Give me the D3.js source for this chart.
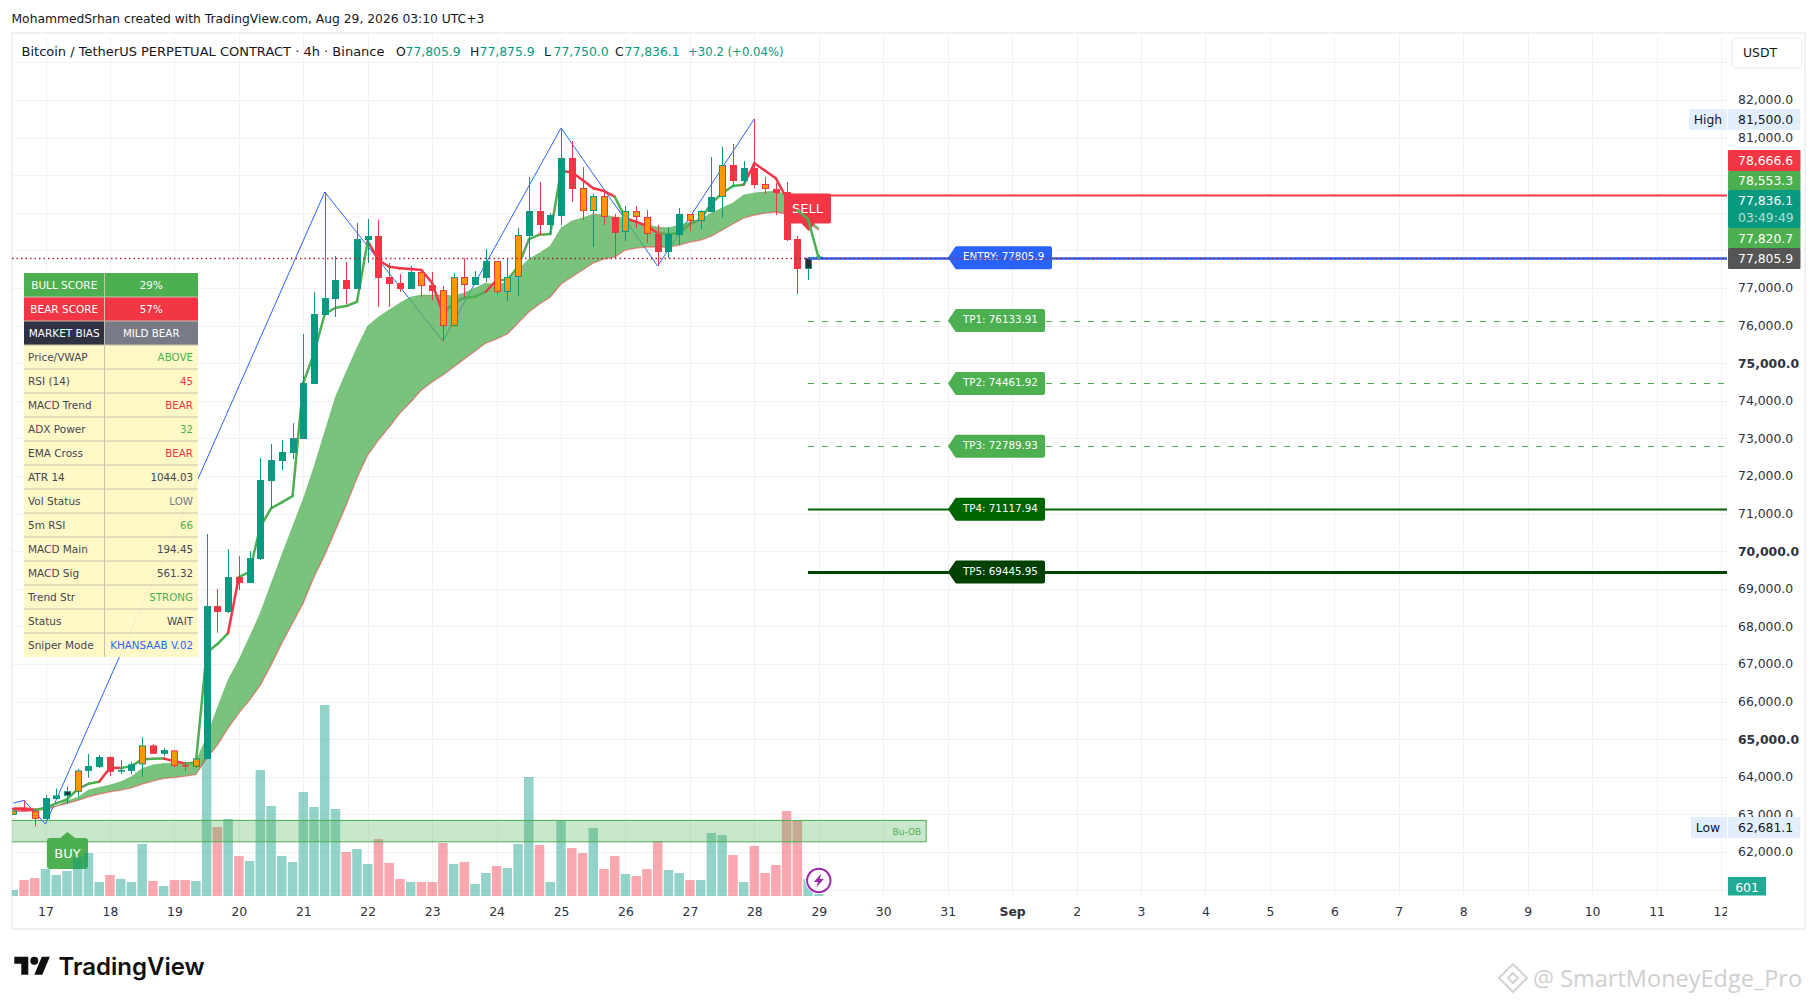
<!DOCTYPE html>
<html>
<head>
<meta charset="utf-8">
<title>BTCUSDT.P 4h</title>
<script src="https://cdn.jsdelivr.net/npm/d3@7"></script>
<style>
    html, body { margin: 0; padding: 0; background: #fff; }
    svg { display: block; }
    text { font-family: "DejaVu Sans", sans-serif; }
</style>
</head>
<body>
<div id="chart"></div>
<script>
// bars run from 4h before the 17th to the open candle on the 29th
const firstBar = -3;
const barOpen = [62989,63175,63087,62875,63407,63494,63601,64159,64258,64524,64159,64159,64330,64835,64612,64702,64311,64266,64471,68540,68381,69312,69152,69791,71865,72397,72610,72983,74446,76281,76707,77212,76973,78276,78382,77292,77132,76973,77425,77079,76946,75988,77292,77079,77265,77717,76893,77292,78382,79047,78675,78914,80457,79659,79047,79446,78888,78489,79047,78888,78436,77957,78409,78968,78781,79021,79420,80271,79845,80191,79766,79633,79553,78303,77505,77805.9];
const barHigh = [63106,63372,63141,63513,63691,63744,64205,64604,64577,64542,64444,64391,65056,64870,64763,64702,64391,64489,70456,68993,70057,69870,70003,72477,72850,72956,73408,75776,76893,79553,77850,77691,78728,78835,78808,77664,77372,77584,77425,77425,77052,77398,77797,77451,78037,77717,77771,78595,79952,79819,78994,81255,80909,80218,79500,79526,78968,79180,79180,79074,78675,78622,79127,78968,79074,80484,80750,80830,80377,81500,79952,79792,79819,78382,77797,77875.9];
const barLow = [62989,63087,62681.1,62875,63407,63274,63452,63973,64239,64018,64072,64072,63992,64612,64550,64258,64151,64239,64471,67830,68354,68966,69152,69764,71147,72158,72451,72983,74446,76281,76228,76574,76973,77664,76494,76494,76893,76973,76760,76680,75589,75988,76760,77079,77159,76840,76653,76786,77797,78409,78409,78675,79287,78808,78090,78675,77797,78249,78595,78196,77584,77797,78143,78515,78569,79021,78861,79686,79739,79659,79500,78941,78249,76840,77212,77750];
const barClose = [63106,63087,62883,63433,63505,63619,64170,64284,64524,64133,64178,64330,64835,64612,64710,64284,64276,64489,68540,68381,69312,69152,69817,71892,72424,72637,73009,74472,76308,76733,77212,76973,78303,78382,77265,77106,76973,77425,77052,76919,75988,77292,77079,77292,77717,76893,77292,78409,79047,78675,78941,80457,79633,79047,79446,78888,78462,79047,78888,78436,77957,78436,78968,78781,79047,79420,80271,79845,80191,79739,79633,79526,78276,77505,77806,77836.1];
const barVolume = [1800,4800,5400,8100,6300,7500,11700,12900,4200,6300,5100,4200,15600,4500,3000,4800,4800,4500,41100,20700,23100,12000,10500,37800,27000,12000,10200,31200,26700,57300,26100,13200,14100,9600,17100,9900,5100,4200,4200,4200,15900,9600,10200,3600,6900,9000,8400,15600,35700,15300,4200,22800,14400,12900,20400,8100,12000,6600,6000,8100,16500,7800,6900,4800,4800,18900,18300,12300,4200,15000,6900,9300,25500,22500,5100,601];
const orangeBars = [-3,-1,3,9,12,14,35,37,38,39,42,43,44,50,51,52,54,55,56,60,61,63,67];
const darkBars = [2,71];

const cloudUpper = [63194,63194,63167,63159,63220,63362,63452,63646,63718,63779,63867,64000,64223,64311,64356,64356,64372,64399,65056,65827,66572,67104,67716,68354,69126,69897,70642,71387,72238,73169,74100,74765,75403,75988,76228,76414,76600,76760,76813,76813,76813,76786,76866,77000,77132,77079,77159,77478,77771,77930,78116,78595,78781,78861,78968,78941,78888,78861,78781,78675,78622,78595,78675,78755,78835,78994,79127,79260,79473,79526,79553,79579,79473,79207,78861,78595];
const cloudLower = [63061,63061,63087,63114,63220,63292,63372,63468,63540,63601,63646,63707,63806,63885,63957,63984,64018,64064,64489,64843,65295,65694,66040,66439,66971,67556,68088,68620,69312,69897,70562,71227,71945,72557,72956,73302,73674,73967,74286,74499,74685,74898,75111,75323,75536,75643,75776,76068,76361,76574,76760,77106,77292,77478,77664,77771,77824,78010,78063,78090,78090,78090,78143,78223,78276,78382,78542,78702,78861,78941,78994,79021,78968,78861,78728,78542];
const fastLine = [63141,63141,63114,63175,63292,63398,63673,63814,63867,64239,64231,64284,64462,64478,64489,64417,64356,64372,67298,67530,67822,69312,69452,70650,71139,71299,71466,74472,75270,76308,76475,76520,76635,78249,77744,77566,77523,77505,77478,77132,76326,76600,76741,76768,76901,77212,77212,77566,78294,78417,78436,80111,80077,79872,79651,79579,79428,78853,78763,78648,78454,78436,78454,78702,78827,79252,79518,79712,79747,80316,80120,79918,79385,79074,78827,77789];
const fastRedBars = [-3,-2,-1,6,7,12,13,18,31,32,33,34,35,36,37,42,49,50,51,52,53,55,56,57,66,67,68,69,70];
const zigzagBars = [-3,-2,0,26,37,48,57,66];
const zigzagPrices = [63300,63372,62742,79553,75589,81255,77584,81500];

const orderBlockTop = 62840;
const orderBlockBottom = 62271;
const orderBlockEnd = 82;

const stopPrice = 79477.89;
const entryPrice = 77805.9;
const tpNames = ['TP1', 'TP2', 'TP3', 'TP4', 'TP5'];
const tpPrices = [76133.91, 74461.92, 72789.93, 71117.94, 69445.95];

// 78k-80k sit behind the stacked price tags, so they are not listed
const priceTicks = [82000,81000,77000,76000,75000,74000,73000,72000,71000,70000,69000,68000,67000,66000,65000,64000,63000,62000];
const gridPrices = [83000,82000,81000,80000,79000,78000,77000,76000,75000,74000,73000,72000,71000,70000,69000,68000,67000,66000,65000,64000,63000,62000,61000];
const dayTicks = [17,18,19,20,21,22,23,24,25,26,27,28,29,30,31,32,33,34,35,36,37,38,39,40,41,42,43];
const dayLabels = ['17','18','19','20','21','22','23','24','25','26','27','28','29','30','31','Sep','2','3','4','5','6','7','8','9','10','11','12'];

const tableLabels = ['BULL SCORE','BEAR SCORE','MARKET BIAS','Price/VWAP','RSI (14)','MACD Trend','ADX Power','EMA Cross','ATR 14','Vol Status','5m RSI','MACD Main','MACD Sig','Trend Str','Status','Sniper Mode'];
const tableValues = ['29%','57%','MILD BEAR','ABOVE','45','BEAR','32','BEAR','1044.03','LOW','66','194.45','561.32','STRONG','WAIT','KHANSAAB V.02'];
const tableTones = ['head','head','head','bull','bear','bear','bull','bear','plain','mute','bull','plain','plain','bull','plain','blue'];

const tagTexts = ['78,666.6','78,553.3','77,836.1','77,820.7','77,805.9'];

const TEAL = '#089981', RED = '#f23645', ORANGE = '#ff9800', DARK = '#2a2e39', GREEN = '#4caf50', BLUE = '#2962ff';
const INK = '#131722', AXIS_INK = '#2e323d', GRID = '#f1f2f4';
const FONT = '"DejaVu Sans", sans-serif';
const plot = { left: 12, right: 1727, top: 33, bottom: 896 };

const y = d3.scaleLinear().domain([82000, 62000]).range([100, 852]);
const x = d3.scaleLinear().domain([17, 43]).range([45.5, 1721]);
const volumeY = d3.scaleLinear().domain([0, 57300]).range([896, 705]);
const barX = k => x(17 + k / 6);
const bars = d3.range(barOpen.length).map(k => k + firstBar);
const at = (arr, bar) => arr[bar - firstBar];

const svg = d3.select('#chart').append('svg').attr('width', 1818).attr('height', 1002);

svg.append('defs').append('clipPath').attr('id', 'plotClip')
    .append('rect').attr('x', plot.left).attr('y', plot.top)
    .attr('width', plot.right - plot.left).attr('height', plot.bottom - plot.top);

function drawFrame() {
    svg.append('text').attr('x', 11.5).attr('y', 23).attr('font-size', 12.3).attr('fill', INK)
        .text('MohammedSrhan created with TradingView.com, Aug 29, 2026 03:10 UTC+3');
    svg.append('rect').attr('x', 12).attr('y', 33).attr('width', 1793).attr('height', 896)
        .attr('fill', '#fff').attr('stroke', '#f0f1f3').attr('stroke-width', 2);
}

function drawGrid(g) {
    g.selectAll('.hgrid').data(gridPrices).enter().append('line')
        .attr('x1', plot.left).attr('x2', plot.right)
        .attr('y1', d => Math.round(y(d)) + 0.5).attr('y2', d => Math.round(y(d)) + 0.5)
        .attr('stroke', GRID);
    g.selectAll('.vgrid').data(dayTicks).enter().append('line')
        .attr('x1', d => Math.round(x(d)) + 0.5).attr('x2', d => Math.round(x(d)) + 0.5)
        .attr('y1', plot.top).attr('y2', plot.bottom)
        .attr('stroke', GRID);
}

function drawBuyLabel(g) {
    const p = d3.path();
    p.moveTo(50, 838); p.lineTo(60, 838); p.lineTo(67.5, 832); p.lineTo(75, 838); p.lineTo(85, 838);
    p.quadraticCurveTo(88, 838, 88, 841); p.lineTo(88, 866); p.quadraticCurveTo(88, 869, 85, 869);
    p.lineTo(50, 869); p.quadraticCurveTo(47, 869, 47, 866); p.lineTo(47, 841); p.quadraticCurveTo(47, 838, 50, 838);
    g.append('path').attr('d', p.toString()).attr('fill', GREEN);
    g.append('text').attr('x', 67.5).attr('y', 858).attr('text-anchor', 'middle')
        .attr('font-size', 13).attr('fill', '#fff').text('BUY');
}

function drawVolume(g) {
    g.selectAll('.vol').data(bars).enter().append('rect')
        .attr('x', d => barX(d) - 4.75)
        .attr('width', 9.5)
        .attr('y', d => volumeY(at(barVolume, d)))
        .attr('height', d => volumeY(0) - volumeY(at(barVolume, d)))
        .attr('fill', d => at(barClose, d) >= at(barOpen, d) ? TEAL : RED)
        .attr('fill-opacity', 0.43);
}

function drawOrderBlock(g) {
    const x0 = plot.left - 2, x1 = x(17 + orderBlockEnd / 6);
    g.append('rect').attr('x', x0).attr('y', y(orderBlockTop))
        .attr('width', x1 - x0).attr('height', y(orderBlockBottom) - y(orderBlockTop))
        .attr('fill', GREEN).attr('fill-opacity', 0.3)
        .attr('stroke', GREEN).attr('stroke-width', 1);
    g.append('text').attr('x', x1 - 5).attr('y', (y(orderBlockTop) + y(orderBlockBottom)) / 2 + 3.5)
        .attr('text-anchor', 'end').attr('font-size', 9).attr('fill', GREEN).text('Bu-OB');
}

function drawZigzag(g) {
    const line = d3.line().x(d => barX(d)).y((d, i) => y(zigzagPrices[i]));
    g.append('path').attr('d', line(zigzagBars)).attr('fill', 'none')
        .attr('stroke', BLUE).attr('stroke-width', 1);
}

function drawCloud(g) {
    const area = d3.area().x(d => barX(d)).y0(d => y(at(cloudLower, d))).y1(d => y(at(cloudUpper, d)));
    g.append('path').attr('d', area(bars.filter(d => d <= 0))).attr('fill', RED).attr('fill-opacity', 0.6);
    g.append('path').attr('d', area(bars.filter(d => d >= 0))).attr('fill', GREEN).attr('fill-opacity', 0.75);
    const upper = d3.line().x(d => barX(d)).y(d => y(at(cloudUpper, d)));
    const lower = d3.line().x(d => barX(d)).y(d => y(at(cloudLower, d)));
    g.append('path').attr('d', upper(bars.filter(d => d >= 0))).attr('fill', 'none')
        .attr('stroke', GREEN).attr('stroke-opacity', 0.5).attr('stroke-width', 1);
    g.append('path').attr('d', lower(bars.filter(d => d >= 0))).attr('fill', 'none')
        .attr('stroke', RED).attr('stroke-opacity', 0.55).attr('stroke-width', 1.3);
}

function drawFastLine(g, from, to) {
    const line = d3.line().x(d => barX(d)).y(d => y(at(fastLine, d)));
    d3.range(from, to).forEach(d => {
        g.append('path').attr('d', line([d, d + 1])).attr('fill', 'none')
            .attr('stroke', fastRedBars.includes(d + 1) ? RED : GREEN)
            .attr('stroke-width', 2.5).attr('stroke-linecap', 'round');
    });
}

function drawCandles(g) {
    const candles = g.selectAll('.candle').data(bars).enter().append('g').attr('class', 'candle');
    const color = d => at(barClose, d) >= at(barOpen, d) ? TEAL : RED;
    candles.append('line')
        .attr('x1', d => Math.round(barX(d)) + 0.5).attr('x2', d => Math.round(barX(d)) + 0.5)
        .attr('y1', d => y(at(barHigh, d))).attr('y2', d => y(at(barLow, d)))
        .attr('stroke', color);
    candles.append('rect')
        .attr('x', d => Math.round(barX(d)) - 2.5)
        .attr('width', 6)
        .attr('y', d => y(Math.max(at(barOpen, d), at(barClose, d))) + 0.5)
        .attr('height', d => Math.max(0.5, Math.abs(y(at(barOpen, d)) - y(at(barClose, d))) - 1))
        .attr('fill', d => orangeBars.includes(d) ? ORANGE : darkBars.includes(d) ? DARK : color(d))
        .attr('stroke', color);
}

function drawLevelLine(g, price, color, width, dash) {
    g.append('line').attr('x1', 808).attr('x2', plot.right)
        .attr('y1', Math.round(y(price)) + 0.5).attr('y2', Math.round(y(price)) + 0.5)
        .attr('stroke', color).attr('stroke-width', width)
        .attr('stroke-dasharray', dash || null);
}

function drawLevelLabel(g, price, text, fill, right) {
    const c = y(price), top = c - 11.5, bottom = c + 11.5, p = d3.path();
    p.moveTo(948, c); p.lineTo(955, top + 1); p.quadraticCurveTo(955.5, top, 957, top);
    p.lineTo(right - 2, top); p.quadraticCurveTo(right, top, right, top + 2);
    p.lineTo(right, bottom - 2); p.quadraticCurveTo(right, bottom, right - 2, bottom);
    p.lineTo(957, bottom); p.quadraticCurveTo(955.5, bottom, 955, bottom - 1); p.closePath();
    g.append('path').attr('d', p.toString()).attr('fill', fill);
    g.append('text').attr('x', 963).attr('y', c + 2.5).attr('font-size', 10.3).attr('fill', '#fff').text(text);
}

function drawLevels(g) {
    const tpColors = [GREEN, GREEN, GREEN, '#006400', '#004000'];
    const tpWidths = [1, 1, 1, 2, 3];
    drawLevelLine(g, stopPrice, RED, 2);
    drawLevelLine(g, entryPrice, BLUE, 2.5);
    tpPrices.forEach((d, i) => {
        drawLevelLine(g, d, tpColors[i], tpWidths[i], i < 3 ? '6 8' : null);
        drawLevelLabel(g, d, `${tpNames[i]}: ${d}`, tpColors[i], 1045);
    });
    drawLevelLabel(g, entryPrice, `ENTRY: ${entryPrice}`, BLUE, 1052);
    g.append('line').attr('x1', plot.left).attr('x2', plot.right)
        .attr('y1', Math.round(y(entryPrice)) + 0.5).attr('y2', Math.round(y(entryPrice)) + 0.5)
        .attr('stroke', '#a8222c').attr('stroke-width', 1.5).attr('stroke-dasharray', '1.5 3');
}

function drawSellLabel(g) {
    const p = d3.path();
    p.moveTo(786, 193.5); p.lineTo(829, 193.5); p.quadraticCurveTo(831, 193.5, 831, 195.5);
    p.lineTo(831, 221.5); p.quadraticCurveTo(831, 223.5, 829, 223.5);
    p.lineTo(815, 223.5); p.lineTo(808.5, 231); p.lineTo(801.5, 223.5);
    p.lineTo(786, 223.5); p.quadraticCurveTo(784, 223.5, 784, 221.5);
    p.lineTo(784, 195.5); p.quadraticCurveTo(784, 193.5, 786, 193.5);
    g.append('path').attr('d', p.toString()).attr('fill', RED);
    g.append('text').attr('x', 807.5).attr('y', 212.5).attr('text-anchor', 'middle')
        .attr('font-size', 13).attr('fill', '#fff').text('SELL');
}

function drawTable() {
    const g = svg.append('g');
    const left = 24, mid = 104.5, right = 198, top = 273, rowH = 24;
    const tone = { bull: GREEN, bear: RED, plain: '#434651', mute: '#787b86', blue: BLUE };
    const headLeft = [GREEN, RED, '#2f3241'], headRight = [GREEN, RED, '#787b86'];
    tableLabels.forEach((label, i) => {
        const rowY = top + i * rowH, head = tableTones[i] === 'head';
        g.append('rect').attr('x', left).attr('y', rowY).attr('width', mid - left).attr('height', rowH)
            .attr('fill', head ? headLeft[i] : '#fff9c4').attr('fill-opacity', head ? 1 : 0.93);
        g.append('rect').attr('x', mid).attr('y', rowY).attr('width', right - mid).attr('height', rowH)
            .attr('fill', head ? headRight[i] : '#fff9c4').attr('fill-opacity', head ? 1 : 0.93);
        if (i > 0) {
            g.append('line').attr('x1', left).attr('x2', right).attr('y1', rowY).attr('y2', rowY)
                .attr('stroke', '#c6c2ab').attr('stroke-width', 1);
        }
        g.append('text').attr('x', head ? (left + mid) / 2 : 28).attr('y', rowY + 15.5)
            .attr('text-anchor', head ? 'middle' : 'start').attr('font-size', 10.5)
            .attr('fill', head ? '#fff' : '#434651').text(label);
        g.append('text').attr('x', head ? (mid + right) / 2 : 193).attr('y', rowY + 15.5)
            .attr('text-anchor', head ? 'middle' : 'end').attr('font-size', 10.3)
            .attr('fill', head ? '#fff' : tone[tableTones[i]]).text(tableValues[i]);
    });
    g.append('line').attr('x1', mid).attr('x2', mid).attr('y1', top).attr('y2', top + tableLabels.length * rowH)
        .attr('stroke', '#c6c2ab');
}

function drawAxes() {
    const priceAxis = svg.append('g').attr('transform', 'translate(1727,0)')
        .call(d3.axisRight(y).tickValues(priceTicks).tickSize(0).tickPadding(11)
            .tickFormat(d => d3.format(',.1f')(d)));
    priceAxis.select('.domain').remove();
    priceAxis.selectAll('text').attr('font-size', 12.4).attr('fill', AXIS_INK).style('font-family', FONT)
        .attr('font-weight', d => d % 5000 === 0 ? 700 : 400);

    svg.append('clipPath').attr('id', 'dayClip').append('rect')
        .attr('x', 0).attr('y', 896).attr('width', plot.right).attr('height', 33);
    const dayAxis = svg.append('g').attr('clip-path', 'url(#dayClip)').append('g')
        .attr('transform', 'translate(0,896)')
        .call(d3.axisBottom(x).tickValues(dayTicks).tickSize(0).tickPadding(11.5)
            .tickFormat((d, i) => dayLabels[i]));
    dayAxis.select('.domain').remove();
    dayAxis.selectAll('text').attr('font-size', 12.4).attr('fill', AXIS_INK).style('font-family', FONT)
        .attr('font-weight', (d, i) => dayLabels[i] === 'Sep' ? 700 : 400);
}

function drawPriceTags() {
    const g = svg.append('g');
    const fills = [RED, GREEN, TEAL, GREEN, '#555555'];
    const heights = [21, 19, 38, 20, 21];
    let top = 150;
    tagTexts.forEach((t, i) => {
        g.append('rect').attr('x', 1728).attr('y', top).attr('width', 72.5).attr('height', heights[i])
            .attr('rx', 1).attr('fill', fills[i]);
        g.append('text').attr('x', 1738).attr('y', top + (i === 2 ? 15 : heights[i] / 2 + 4.5))
            .attr('font-size', 12.4).attr('fill', '#fff').text(t);
        if (i === 2) {
            g.append('text').attr('x', 1738).attr('y', top + 32).attr('font-size', 12.4)
                .attr('fill', '#fff').attr('fill-opacity', 0.7).text('03:49:49');
        }
        top += heights[i];
    });

    const soft = '#e3effd';
    [['High', '81,500.0', 109, 1689], ['Low', '62,681.1', 817, 1691]].forEach(([name, val, yTop, x0]) => {
        g.append('rect').attr('x', x0).attr('y', yTop).attr('width', 1727 - x0).attr('height', 21).attr('rx', 1).attr('fill', soft);
        g.append('rect').attr('x', 1728).attr('y', yTop).attr('width', 72.5).attr('height', 21).attr('rx', 1).attr('fill', soft);
        g.append('text').attr('x', 1708).attr('y', yTop + 15).attr('text-anchor', 'middle')
            .attr('font-size', 12.4).attr('fill', INK).text(name);
        g.append('text').attr('x', 1738).attr('y', yTop + 15).attr('font-size', 12.4).attr('fill', INK).text(val);
    });

    g.append('rect').attr('x', 1728).attr('y', 877).attr('width', 38).attr('height', 18.5).attr('fill', '#22ab94');
    g.append('text').attr('x', 1747).attr('y', 892).attr('text-anchor', 'middle')
        .attr('font-size', 12.4).attr('fill', '#fff').text('601');
}

function drawHeader() {
    const g = svg.append('g').attr('font-size', 12.4);
    const baseY = 56;
    g.append('text').attr('x', 21.5).attr('y', baseY).attr('font-size', 13).attr('fill', INK)
        .text('Bitcoin / TetherUS PERPETUAL CONTRACT · 4h · Binance');
    [['O', '77,805.9', 396], ['H', '77,875.9', 470], ['L', '77,750.0', 544], ['C', '77,836.1', 615]].forEach(([k, v, px]) => {
        g.append('text').attr('x', px).attr('y', baseY).attr('fill', INK).text(k);
        g.append('text').attr('x', px + 9.5).attr('y', baseY).attr('fill', TEAL).text(v);
    });
    g.append('text').attr('x', 688).attr('y', baseY).attr('font-size', 11.7).attr('fill', TEAL).text('+30.2 (+0.04%)');

    svg.append('rect').attr('x', 1732).attr('y', 38).attr('width', 70).attr('height', 30).attr('rx', 5)
        .attr('fill', '#fff').attr('stroke', '#f0f1f3').attr('stroke-width', 1.5);
    svg.append('text').attr('x', 1743).attr('y', 57).attr('font-size', 12.4).attr('fill', INK).text('USDT');
}

function drawBolt() {
    const g = svg.append('g').attr('transform', `translate(${barX(72)},880.5)`);
    g.append('circle').attr('r', 13.5).attr('fill', '#fff');
    g.append('circle').attr('r', 11.7).attr('fill', '#fff').attr('stroke', '#9c27b0').attr('stroke-width', 2);
    g.append('path').attr('d', 'M2.5,-7 L-5,1.5 L-0.8,1.5 L-2.5,7 L5,-1.5 L0.8,-1.5 Z').attr('fill', '#9c27b0');
}

function drawFooter() {
    const logo = svg.append('g').attr('transform', 'translate(14.3,952.7)').attr('fill', '#0f0f0f');
    logo.append('path').attr('d', 'M14 22H7V11H0V4h14v18zM28 22h-8l7.5-18h8L28 22z');
    logo.append('circle').attr('cx', 20).attr('cy', 8).attr('r', 4);
    svg.append('text').attr('x', 58.5).attr('y', 975).attr('font-size', 24).attr('font-weight', 600)
        .style('font-family', 'Inter, sans-serif').attr('fill', '#0f0f0f').text('TradingView');

    const mark = svg.append('g').attr('transform', 'translate(1513,978)').attr('fill', 'none')
        .attr('stroke', '#d3d3d3').attr('stroke-width', 2);
    mark.append('path').attr('d', 'M0,-14 L7,-7 M0,-14 L-7,-7 M-7,-7 L-14,0 L-7,7 M7,-7 L14,0 L7,7 M-7,7 L0,14 L7,7');
    mark.append('path').attr('d', 'M0,-5 L5,0 L0,5 L-5,0 Z');
    svg.append('text').attr('x', 1533).attr('y', 987).attr('font-size', 23.5)
        .style('font-family', '"Open Sans", sans-serif').attr('fill', '#cfcfcf').text('@ SmartMoneyEdge_Pro');
}

drawFrame();
const plotLayer = svg.append('g').attr('clip-path', 'url(#plotClip)');
drawGrid(plotLayer);
drawBuyLabel(plotLayer);
drawVolume(plotLayer);
drawOrderBlock(plotLayer);
drawZigzag(plotLayer);
drawCloud(plotLayer);
drawFastLine(plotLayer, firstBar, 70);
drawCandles(plotLayer);
drawLevels(plotLayer);
drawSellLabel(plotLayer);
drawFastLine(plotLayer, 70, 72);
drawTable();
drawAxes();
drawPriceTags();
drawHeader();
drawBolt();
drawFooter();
</script>
</body>
</html>
